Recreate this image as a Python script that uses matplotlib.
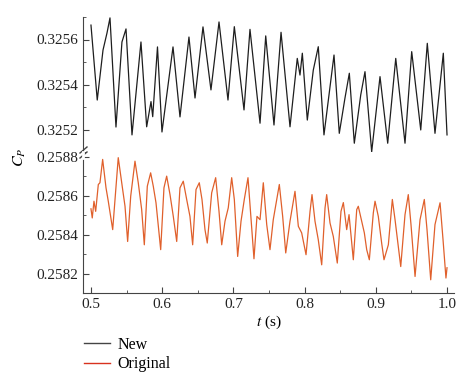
import matplotlib
matplotlib.use('Agg')
import matplotlib.pyplot as plt
from matplotlib.lines import Line2D
from matplotlib.ticker import FormatStrFormatter, MultipleLocator

# ── 데이터 ──
t_new = [0.5000, 0.5088, 0.5169, 0.5225, 0.5267, 0.5351, 0.5435, 0.5492, 0.5576, 0.5702,
         0.5782, 0.5843, 0.5867, 0.5934, 0.5997, 0.6152, 0.6250, 0.6376, 0.6461, 0.6573,
         0.6685, 0.6798, 0.6924, 0.7013, 0.7149, 0.7233, 0.7374, 0.7454, 0.7570, 0.7669,
         0.7795, 0.7897, 0.7935, 0.7968, 0.8038, 0.8122, 0.8192, 0.8272, 0.8413, 0.8487,
         0.8567, 0.8628, 0.8698, 0.8788, 0.8848, 0.8942, 0.9059, 0.9167, 0.9280, 0.9410,
         0.9504, 0.9631, 0.9723, 0.9831, 0.9948, 1.0000]
cp_new = [0.325664, 0.325331, 0.325553, 0.325629, 0.325696, 0.325211, 0.325589, 0.325647, 0.325176, 0.325589,
          0.325212, 0.325324, 0.325257, 0.325567, 0.325189, 0.325567, 0.325256, 0.325611, 0.325340, 0.325656,
          0.325376, 0.325678, 0.325331, 0.325657, 0.325287, 0.325645, 0.325228, 0.325616, 0.325220, 0.325632,
          0.325212, 0.325516, 0.325442, 0.325539, 0.325242, 0.325464, 0.325568, 0.325176, 0.325531, 0.325183,
          0.325340, 0.325450, 0.325139, 0.325353, 0.325457, 0.325101, 0.325435, 0.325139, 0.325516, 0.325139,
          0.325546, 0.325198, 0.325583, 0.325183, 0.325539, 0.325176]

t_orig = [0.5000, 0.5018, 0.5042, 0.5066, 0.5103, 0.5126, 0.5164, 0.5211, 0.5243, 0.5305,
          0.5383, 0.5445, 0.5478, 0.5515, 0.5558, 0.5618, 0.5664, 0.5712, 0.5749, 0.5791,
          0.5838, 0.5875, 0.5913, 0.5979, 0.6025, 0.6063, 0.6110, 0.6156, 0.6204, 0.6250,
          0.6296, 0.6344, 0.6390, 0.6428, 0.6475, 0.6521, 0.6559, 0.6601, 0.6633, 0.6695,
          0.6751, 0.6798, 0.6836, 0.6882, 0.6928, 0.6976, 0.7013, 0.7060, 0.7107, 0.7153,
          0.7205, 0.7240, 0.7289, 0.7331, 0.7374, 0.7420, 0.7468, 0.7514, 0.7560, 0.7645,
          0.7692, 0.7735, 0.7795, 0.7865, 0.7912, 0.7959, 0.8020, 0.8076, 0.8104, 0.8146,
          0.8192, 0.8240, 0.8287, 0.8310, 0.8357, 0.8403, 0.8459, 0.8511, 0.8544, 0.8591,
          0.8624, 0.8662, 0.8684, 0.8732, 0.8754, 0.8839, 0.8872, 0.8909, 0.8965, 0.8989,
          0.9035, 0.9083, 0.9115, 0.9176, 0.9232, 0.9270, 0.9350, 0.9410, 0.9456, 0.9494,
          0.9551, 0.9621, 0.9681, 0.9719, 0.9771, 0.9831, 0.9902, 0.9944, 0.9985, 1.0000]
cp_orig = [0.258533, 0.258486, 0.258572, 0.258520, 0.258658, 0.258667, 0.258787, 0.258641, 0.258572, 0.258426,
           0.258796, 0.258632, 0.258546, 0.258365, 0.258598, 0.258778, 0.258667, 0.258529, 0.258348, 0.258649,
           0.258718, 0.258649, 0.258564, 0.258323, 0.258641, 0.258701, 0.258606, 0.258494, 0.258365, 0.258641,
           0.258675, 0.258581, 0.258494, 0.258348, 0.258632, 0.258667, 0.258581, 0.258426, 0.258357, 0.258615,
           0.258693, 0.258520, 0.258348, 0.258469, 0.258538, 0.258693, 0.258581, 0.258288, 0.258469, 0.258581,
           0.258693, 0.258520, 0.258276, 0.258494, 0.258477, 0.258667, 0.258452, 0.258323, 0.258477, 0.258658,
           0.258494, 0.258306, 0.258469, 0.258623, 0.258443, 0.258409, 0.258297, 0.258519, 0.258606, 0.258469,
           0.258374, 0.258245, 0.258538, 0.258606, 0.258460, 0.258391, 0.258254, 0.258520, 0.258565, 0.258426,
           0.258503, 0.258357, 0.258271, 0.258529, 0.258546, 0.258409, 0.258323, 0.258271, 0.258512, 0.258572,
           0.258494, 0.258354, 0.258271, 0.258348, 0.258581, 0.258477, 0.258236, 0.258503, 0.258606, 0.258452,
           0.258185, 0.258477, 0.258581, 0.258426, 0.258168, 0.258452, 0.258564, 0.258374, 0.258177, 0.258230]

x_ticks = [0.5, 0.6, 0.7, 0.8, 0.9, 1.0]
top_ticks = [0.3252, 0.3254, 0.3256]
bot_ticks = [0.2582, 0.2584, 0.2586, 0.2588]

# ── 스타일 ──
plt.rcParams['font.family'] = ['Liberation Serif', 'DejaVu Serif']
plt.rcParams['mathtext.fontset'] = 'stix'
plt.rcParams['font.size'] = 11

c_new = '#1e1e1e'
c_orig = '#e0602c'
c_axis = '#444444'

fig = plt.figure(figsize=(4.74, 3.89), dpi=100)
W, H = 474, 389
left, right = 83 / W, 454 / W
ax_top = fig.add_axes([left, 1 - 152 / H, right - left, (152 - 17) / H])
ax_bot = fig.add_axes([left, 1 - 293 / H, right - left, (293 - 153) / H])

ax_top.plot(t_new, cp_new, color=c_new, lw=0.9)
ax_bot.plot(t_orig, cp_orig, color=c_orig, lw=0.9)

for ax in (ax_top, ax_bot):
    ax.set_xlim(0.4888, 1.0098)
    for s in ('top', 'right'):
        ax.spines[s].set_visible(False)
    ax.spines['left'].set_color(c_axis)
    ax.spines['bottom'].set_color(c_axis)
    ax.tick_params(which='both', direction='in', colors=c_axis, labelcolor='#222222')
    ax.tick_params(which='major', length=4)
    ax.tick_params(which='minor', length=2.5)
    ax.yaxis.set_major_formatter(FormatStrFormatter('%.4f'))
    ax.yaxis.set_minor_locator(MultipleLocator(0.0001))

ax_top.set_ylim(0.3251, 0.3257)
ax_top.set_yticks(top_ticks)
ax_top.spines['bottom'].set_visible(False)
ax_top.tick_params(axis='x', which='both', bottom=False, labelbottom=False)

ax_bot.set_ylim(0.2581, 0.25882)
ax_bot.set_yticks(bot_ticks)
ax_bot.set_xticks(x_ticks)
ax_bot.xaxis.set_minor_locator(MultipleLocator(0.05))
ax_bot.xaxis.set_major_formatter(FormatStrFormatter('%.1f'))
ax_bot.set_xlabel(r'$t$ (s)', labelpad=2)

# 축 끊김 표시
for dy in (0, 5):
    y0 = 1 - (158 - dy) / H
    fig.add_artist(Line2D([80 / W, 87 / W], [y0, y0 + 6 / H], color=c_axis, lw=1.0))
fig.add_artist(Line2D([left, left], [1 - 158 / H, 1 - 152 / H], color='white', lw=2.0))

fig.text(20 / W, 1 - 157 / H, r'$C_P$', rotation=90, ha='center', va='center', fontsize=11.5)

handles = [Line2D([], [], color='#444444', lw=1.0), Line2D([], [], color='#d8321e', lw=1.0)]
fig.legend(handles, ['New', 'Original'], loc='upper left', bbox_to_anchor=(84 / W, 1 - 337 / H),
           frameon=False, borderpad=0, borderaxespad=0, handlelength=1.6, handletextpad=0.5,
           labelspacing=0.2, fontsize=11.5)

fig.savefig('out.png', dpi=100)
